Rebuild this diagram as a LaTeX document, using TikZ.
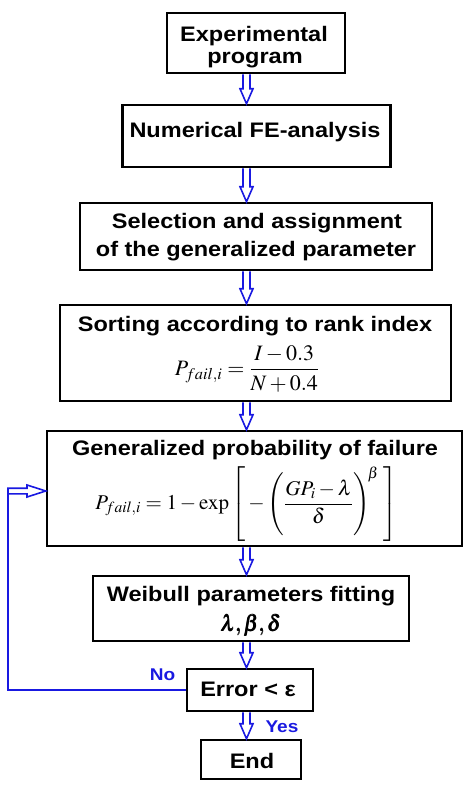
\documentclass[tikz,border=0pt]{standalone}
\usepackage{amsmath}
\usepackage{mathptmx}
\usepackage[no-math]{fontspec}
\setmainfont{Liberation Sans}[FakeStretch=1.12]
\usetikzlibrary{calc}
\definecolor{fblue}{RGB}{25,25,225}
\tikzset{
  box/.style={draw=black, line width=2.5pt, rectangle, inner sep=0pt, fill=white},
  txt/.style={anchor=base, inner sep=0pt, font=\fontsize{21}{25}\selectfont\bfseries},
  lab/.style={anchor=base, inner sep=0pt, text=fblue, font=\fontsize{17}{20}\selectfont\bfseries},
  mth/.style={inner sep=0pt, font=\fontsize{22}{26}\selectfont},
  harr/.style={draw=fblue, line width=1.6pt, line join=miter},
  fbline/.style={draw=fblue, line width=2pt},
}
\newcommand\harrow[2]{%
  \draw[harr] ($(ax |- #1.south)+(-3.5,0)$) -- ($(ax |- #2.north)+(-3.5,-15)$) -- ++(-3,0)
    -- (ax |- #2.north) -- ++(6.5,-15) -- ++(-3,0) -- ($(ax |- #1.south)+(3.5,0)$);}
\begin{document}
\begin{tikzpicture}[x=1pt, y=-1pt]
\useasboundingbox (0,0) rectangle (474,788);
\coordinate (ax) at (246.5,0);
% boxes
\node[box, minimum width=178pt, minimum height=60pt] (b1) at (256,43) {};
\node[box, minimum width=268pt, minimum height=62pt] (b2) at (256.5,136) {};
\node[box, minimum width=352pt, minimum height=67pt] (b3) at (256,236.5) {};
\node[box, minimum width=391pt, minimum height=96pt] (b4) at (255.5,353) {};
\node[box, minimum width=415pt, minimum height=115pt] (b5) at (254.5,488.5) {};
\node[box, minimum width=316pt, minimum height=65pt] (b6) at (251,608.5) {};
\node[box, minimum width=126pt, minimum height=42pt] (err) at (250,690) {};
\node[box, minimum width=100pt, minimum height=39pt] (end) at (251,759.5) {};
% texts
\node[txt] (t1a) at (254,41) {Experimental};
\node[txt] (t1b) at (255,63) {program};
\node[txt] (t2) at (255,137) {Numerical FE-analysis};
\node[txt] (t3a) at (257,228.5) {Selection and assignment};
\node[txt] (t3b) at (256,256.5) {of the generalized parameter};
\node[txt] (t4) at (255,331.5) {Sorting according to rank index};
\node[mth] (f1) at (247,369) {$\displaystyle P_{fail,i}=\frac{I-0.3}{N+0.4}$};
\node[txt] (t5) at (255,455) {Generalized probability of failure};
\node[mth, font=\fontsize{21}{25}\selectfont] (f2) at (246.5,504) {$\displaystyle P_{fail,i}=1-\exp\left[\vphantom{\rule[-27pt]{0pt}{64pt}}-\left(\vphantom{\rule[-25pt]{0pt}{58pt}}\frac{GP_i-\lambda}{\delta}\right)^{\!\beta}\;\right]$};
\node[txt] (t6) at (251,601.5) {Weibull parameters fitting};
\node[mth, anchor=base] (f3) at (251,631.5) {\pmb{$\lambda,\beta,\delta$}};
\node[txt] (te) at (248,696.5) {Error < ε};
\node[txt] (tend) at (252,768) {End};
\node[lab] (no) at (162.5,680) {No};
\node[lab] (yes) at (282,732.5) {Yes};
% arrows
\harrow{b1}{b2}
\harrow{b2}{b3}
\harrow{b3}{b4}
\harrow{b4}{b5}
\harrow{b5}{b6}
\harrow{b6}{err}
\harrow{err}{end}
% feedback
\coordinate (fb) at (8,491);
\draw[fbline] (err.west) -- (err.west -| fb) -- ($(fb)+(0,-2.8)$);
\draw[harr] ($(fb)+(-1,-2.8)$) -- ($(fb |- 0,491)+(19,-2.8)$) -- ++(0,-3.2)
  -- (fb -| b5.west) -- ($(fb)+(19,6)$) -- ++(0,-3.2) -- ($(fb)+(-1,2.8)$);
\end{tikzpicture}
\end{document}
